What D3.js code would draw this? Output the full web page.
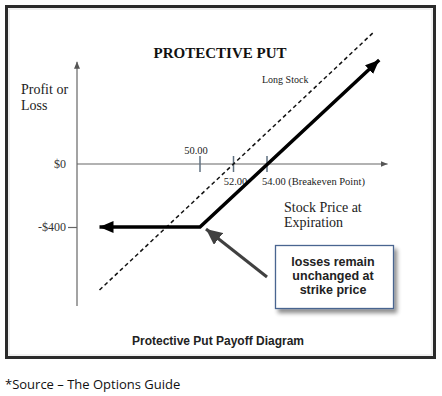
<!DOCTYPE html>
<html>
<head>
<meta charset="utf-8">
<script src="https://cdn.jsdelivr.net/npm/d3@7"></script>
<style>
body { margin: 0; background: #fff; }
svg { display: block; }
</style>
</head>
<body>
<svg id="chart" width="442" height="396"></svg>
<script>
// data
var strikes = [50, 52, 54];
var strikeLabels = ["50.00", "52.00", "54.00 (Breakeven Point)"];
var stockPrice = [44, 60.4];   // long stock line (dashed)
var stockPL = [-800, 840];
var putPrice = [44, 50, 60.7]; // protective put payoff
var putPL = [-400, -400, 660];
var yTicks = [0, -400];
var yTickLabels = ["$0", "-$400"];

var serif = "'Liberation Serif', 'Times New Roman', serif";
var sans = "'Liberation Sans', Arial, sans-serif";

var svg = d3.select("#chart");

//scales: 50 -> 200px, 0$ -> 164px
var x = d3.scaleLinear().domain([50, 54]).range([200, 267]);
var y = d3.scaleLinear().domain([0, -400]).range([164, 227]);

var defs = svg.append("defs");

function arrowMarker(id, color, len, wid) {
	defs.append("marker")
	.attr("id", id)
	.attr("markerUnits", "userSpaceOnUse")
	.attr("viewBox", "0 0 " + len + " " + wid)
	.attr("refX", len)
	.attr("refY", wid / 2)
	.attr("markerWidth", len)
	.attr("markerHeight", wid)
	.attr("orient", "auto-start-reverse")
	.append("path")
	.attr("d", "M0,0 L" + len + "," + (wid / 2) + " L0," + wid + " Z")
	.attr("fill", color);
}
arrowMarker("axisArrow", "#555", 7, 6);
arrowMarker("putArrow", "#000", 14, 12);
arrowMarker("noteArrow", "#404040", 16, 15);

var shadow = defs.append("filter").attr("id", "shadow")
.attr("x", "-20%").attr("y", "-20%").attr("width", "150%").attr("height", "160%");
shadow.append("feGaussianBlur").attr("in", "SourceAlpha").attr("stdDeviation", 2);
shadow.append("feOffset").attr("dx", 3).attr("dy", 4).attr("result", "off");
shadow.append("feComponentTransfer").append("feFuncA").attr("type", "linear").attr("slope", 0.45);
var merge = shadow.append("feMerge");
merge.append("feMergeNode");
merge.append("feMergeNode").attr("in", "SourceGraphic");

//outer frame
svg.append("rect")
.attr("x", 6.5).attr("y", 6.5)
.attr("width", 428).attr("height", 351)
.attr("fill", "#fff")
.attr("stroke", "#2b2b2b")
.attr("stroke-width", 3);
svg.append("rect")
.attr("x", 9).attr("y", 9)
.attr("width", 423).attr("height", 346)
.attr("fill", "none")
.attr("stroke", "#e2e2e2")
.attr("stroke-width", 1);

//title
svg.append("text")
.attr("x", 220).attr("y", 58)
.attr("text-anchor", "middle")
.attr("font-family", serif)
.attr("font-weight", "bold")
.attr("font-size", 15)
.attr("fill", "#111")
.text("PROTECTIVE PUT");

//y axis
svg.append("line")
.attr("x1", 77).attr("x2", 77)
.attr("y1", y(-901)).attr("y2", y(650))
.attr("stroke", "#666").attr("stroke-width", 1.2)
.attr("marker-end", "url(#axisArrow)");

//x axis
svg.append("line")
.attr("x1", 77).attr("x2", x(61.2))
.attr("y1", y(0)).attr("y2", y(0))
.attr("stroke", "#666").attr("stroke-width", 1.2)
.attr("marker-end", "url(#axisArrow)");

var yAxis = d3.axisLeft(y)
.tickValues(yTicks)
.tickSize(9)
.tickFormat(function(d, i) { return yTickLabels[i]; });

var gy = svg.append("g")
.attr("transform", "translate(77,0)")
.call(yAxis);
gy.select(".domain").remove();
gy.selectAll(".tick line").attr("stroke", "#666").attr("stroke-width", 1.2)
.attr("display", function(d) { return d === 0 ? "none" : null; });
gy.selectAll(".tick text")
.attr("x", -11)
.attr("font-family", serif)
.attr("font-size", 12)
.attr("fill", "#333");

//strike ticks
svg.selectAll(".strike")
.data(strikes)
.enter().append("line")
.attr("class", "strike")
.attr("x1", function(d) { return x(d); })
.attr("x2", function(d) { return x(d); })
.attr("y1", y(0) - 8).attr("y2", y(0) + 8)
.attr("stroke", "#5f7080").attr("stroke-width", 1.5);

svg.selectAll(".strikeLabel")
.data(strikes)
.enter().append("text")
.attr("class", "strikeLabel")
.attr("x", function(d, i) { return x(d) + [-4, 2, -5][i]; })
.attr("y", function(d, i) { return i == 0 ? y(0) - 10 : y(0) + 21; })
.attr("text-anchor", function(d, i) { return i == 2 ? "start" : "middle"; })
.attr("font-family", serif)
.attr("font-size", 10.5)
.attr("fill", "#222")
.text(function(d, i) { return strikeLabels[i]; });

//long stock (dashed)
var line = d3.line()
.x(function(d) { return x(d[0]); })
.y(function(d) { return y(d[1]); });

svg.append("path")
.datum(d3.zip(stockPrice, stockPL))
.attr("d", line)
.attr("fill", "none")
.attr("stroke", "#111")
.attr("stroke-width", 1.5)
.attr("stroke-dasharray", "4,3");

svg.append("text")
.attr("x", 262).attr("y", 83)
.attr("font-family", serif)
.attr("font-size", 10)
.attr("fill", "#222")
.text("Long Stock");

//protective put payoff
svg.append("path")
.datum(d3.zip(putPrice, putPL))
.attr("d", line)
.attr("fill", "none")
.attr("stroke", "#000")
.attr("stroke-width", 3.5)
.attr("stroke-linejoin", "miter")
.attr("marker-start", "url(#putArrow)")
.attr("marker-end", "url(#putArrow)");

//axis titles
var yTitle = svg.append("text")
.attr("font-family", serif)
.attr("font-size", 14)
.attr("fill", "#222");
yTitle.append("tspan").attr("x", 21).attr("y", 94).text("Profit or");
yTitle.append("tspan").attr("x", 21).attr("y", 110).text("Loss");

var xTitle = svg.append("text")
.attr("font-family", serif)
.attr("font-size", 14)
.attr("fill", "#222");
xTitle.append("tspan").attr("x", 284).attr("y", 212).text("Stock Price at");
xTitle.append("tspan").attr("x", 284).attr("y", 227).text("Expiration");

//annotation arrow and callout
svg.append("line")
.attr("x1", 267).attr("y1", 277)
.attr("x2", 206).attr("y2", 229)
.attr("stroke", "#404040")
.attr("stroke-width", 3)
.attr("marker-end", "url(#noteArrow)");

svg.append("rect")
.attr("x", 275.5).attr("y", 245.5)
.attr("width", 118).attr("height", 63)
.attr("fill", "#fff")
.attr("stroke", "#4a6590")
.attr("stroke-width", 1.3)
.attr("filter", "url(#shadow)");

var note = svg.append("text")
.attr("text-anchor", "middle")
.attr("font-family", sans)
.attr("font-weight", "bold")
.attr("font-size", 12.5)
.attr("fill", "#222");
["losses remain", "unchanged at", "strike price"].forEach(function(t, i) {
	note.append("tspan").attr("x", 333).attr("y", 266 + i * 14).text(t);
});

//caption
svg.append("text")
.attr("x", 218).attr("y", 345)
.attr("text-anchor", "middle")
.attr("font-family", sans)
.attr("font-weight", "bold")
.attr("font-size", 12)
.attr("fill", "#222")
.text("Protective Put Payoff Diagram");

//footnote
svg.append("text")
.attr("x", 5).attr("y", 389)
.attr("font-family", "'Open Sans', sans-serif")
.attr("font-size", 13)
.attr("fill", "#111")
.text("*Source \u2013 The Options Guide");
</script>
</body>
</html>
